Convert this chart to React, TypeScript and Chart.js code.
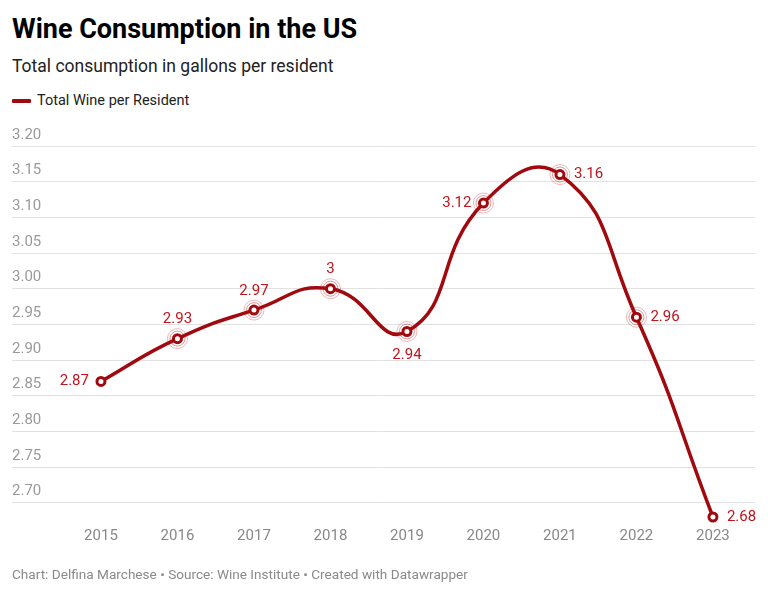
import React, { useEffect, useRef } from "react";
import { Chart, registerables } from "chart.js";

Chart.register(...registerables);

const years = [2015, 2016, 2017, 2018, 2019, 2020, 2021, 2022, 2023];
const values = [2.87, 2.93, 2.97, 3, 2.94, 3.12, 3.16, 2.96, 2.68];
const valueLabels = ["2.87", "2.93", "2.97", "3", "2.94", "3.12", "3.16", "2.96", "2.68"];
const labelSides = ["left", "top", "top", "top", "bottom", "left", "right", "right", "right"];
const haloYears = [2016, 2017, 2018, 2019, 2020, 2021, 2022];
const yTicks = [2.7, 2.75, 2.8, 2.85, 2.9, 2.95, 3.0, 3.05, 3.1, 3.15, 3.2];

const LINE = "#a00a0f";
const LABEL = "#c0141c";
const FONT = "Roboto, 'Noto Sans', sans-serif";

const labelPlugin = {
  id: "valueLabels",
  afterDatasetsDraw(chart: any) {
    const ctx = chart.ctx;
    const meta = chart.getDatasetMeta(0);
    ctx.save();
    meta.data.forEach((pt: any, i: number) => {
      if (!haloYears.includes(years[i])) return;
      ctx.strokeStyle = "rgba(192,20,28,0.45)";
      ctx.lineWidth = 1;
      ctx.beginPath();
      ctx.arc(pt.x, pt.y, 7.5, 0, Math.PI * 2);
      ctx.stroke();
      ctx.strokeStyle = "rgba(192,20,28,0.3)";
      ctx.beginPath();
      ctx.arc(pt.x, pt.y, 10, 0, Math.PI * 2);
      ctx.stroke();
    });
    ctx.font = `15px ${FONT}`;
    ctx.fillStyle = LABEL;
    meta.data.forEach((pt: any, i: number) => {
      const side = labelSides[i];
      const t = valueLabels[i];
      ctx.textBaseline = "middle";
      if (side === "left") {
        ctx.textAlign = "right";
        ctx.fillText(t, pt.x - 12, pt.y);
      } else if (side === "right") {
        ctx.textAlign = "left";
        ctx.fillText(t, pt.x + 14, pt.y);
      } else if (side === "top") {
        ctx.textAlign = "center";
        ctx.fillText(t, pt.x, pt.y - 19);
      } else {
        ctx.textAlign = "center";
        ctx.fillText(t, pt.x, pt.y + 24);
      }
    });
    ctx.restore();
  },
};

export default function App() {
  const ref = useRef<HTMLCanvasElement>(null);
  useEffect(() => {
    if (!ref.current) return;
    const chart = new Chart(ref.current, {
      type: "line",
      data: {
        datasets: [
          {
            label: "Total Wine per Resident",
            data: years.map((y, i) => ({ x: y, y: values[i] })),
            borderColor: LINE,
            borderWidth: 3.5,
            tension: 0.5,
            pointRadius: 4,
            pointBorderWidth: 3,
            pointBackgroundColor: "#ffffff",
            pointBorderColor: LINE,
            clip: false as any,
          },
        ],
      },
      options: {
        responsive: false,
        animation: false,
        layout: { padding: { left: 12, right: 13, top: 146, bottom: 40 } },
        plugins: { legend: { display: false }, tooltip: { enabled: false } },
        scales: {
          x: {
            type: "linear",
            min: 2013.837,
            max: 2023.55,
            afterBuildTicks: (s: any) => {
              s.ticks = years.map((v) => ({ value: v }));
            },
            grid: { display: false, drawTicks: false },
            border: { display: false },
            ticks: {
              color: "#888888",
              font: { family: FONT, size: 15 },
              padding: 10,
              callback: (v: any) => String(v),
              maxRotation: 0,
              autoSkip: false,
            },
          },
          y: {
            min: 2.68,
            max: 3.2,
            afterBuildTicks: (s: any) => {
              s.ticks = yTicks.map((v) => ({ value: v }));
            },
            grid: { color: "#e2e2e2", lineWidth: 1, drawTicks: false },
            border: { display: false },
            ticks: {
              mirror: true,
              padding: 0,
              labelOffset: -11,
              color: "#9a9a9a",
              font: { family: FONT, size: 15 },
              callback: (v: any) => Number(v).toFixed(2),
            },
          },
        },
      },
      plugins: [labelPlugin],
    });
    return () => chart.destroy();
  }, []);

  return (
    <div style={{ position: "fixed", left: 0, top: 0, width: 768, height: 595, background: "#fff", fontFamily: FONT }}>
      <div style={{ position: "absolute", left: 12, top: 13, fontSize: 27, fontWeight: 700, color: "#000", whiteSpace: "nowrap" }}>
        Wine Consumption in the US
      </div>
      <div style={{ position: "absolute", left: 12, top: 56, fontSize: 17.5, color: "#222", whiteSpace: "nowrap" }}>
        Total consumption in gallons per resident
      </div>
      <div style={{ position: "absolute", left: 12, top: 92, fontSize: 14.5, color: "#222", display: "flex", alignItems: "center", whiteSpace: "nowrap" }}>
        <span style={{ display: "inline-block", width: 19, height: 4, background: LINE, borderRadius: 1, marginRight: 6 }} />
        Total Wine per Resident
      </div>
      <canvas ref={ref} width={768} height={595} style={{ position: "absolute", left: 0, top: 0 }} />
      <div style={{ position: "absolute", left: 12, top: 566, fontSize: 13.6, color: "#8a8a8a", whiteSpace: "nowrap" }}>
        Chart: Delfina Marchese • Source: Wine Institute • Created with Datawrapper
      </div>
    </div>
  );
}
